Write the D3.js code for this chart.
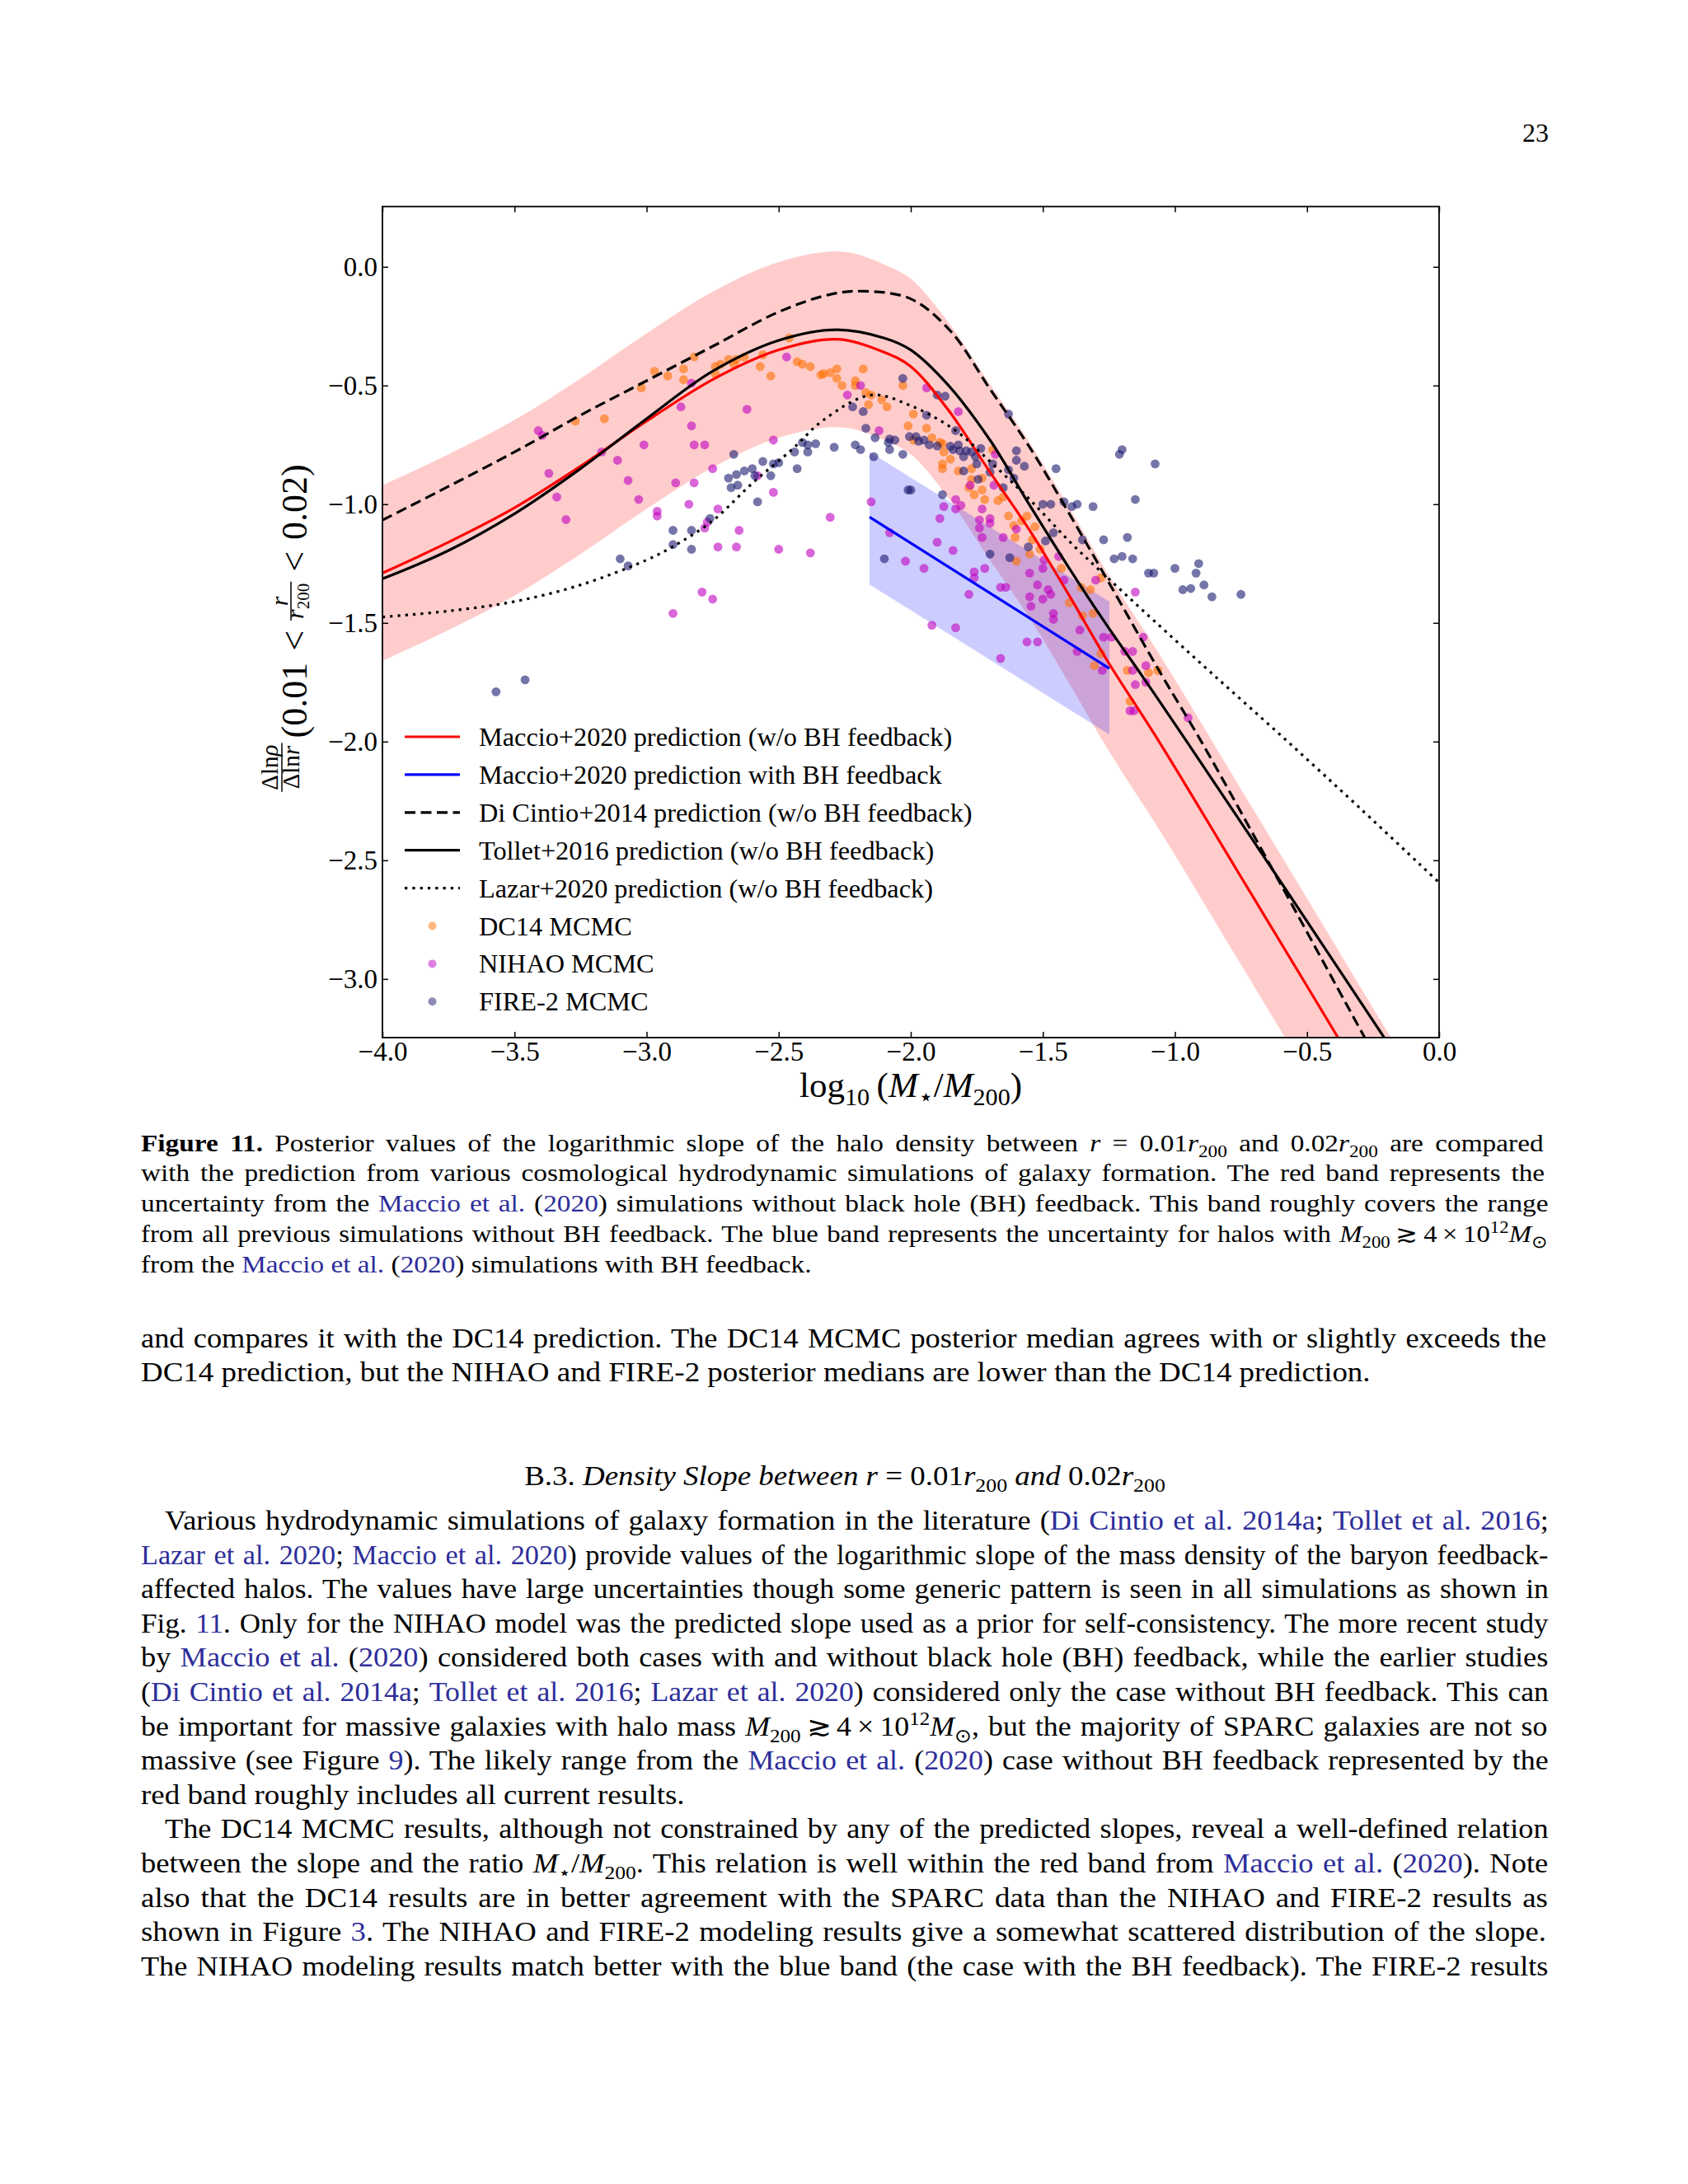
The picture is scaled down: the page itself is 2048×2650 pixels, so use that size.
<!DOCTYPE html>
<html><head><meta charset="utf-8">
<script src="https://cdn.jsdelivr.net/npm/d3@7"></script>
<style>body{margin:0;background:#fff}svg{display:block}</style>
</head><body>
<svg id="page" width="2048" height="2650"></svg>
<script>
// ---------------- DATA ----------------
const xTicks = [-4.0, -3.5, -3.0, -2.5, -2.0, -1.5, -1.0, -0.5, 0.0];
const yTicks = [0.0, -0.5, -1.0, -1.5, -2.0, -2.5, -3.0];

// Maccio+2020 (w/o BH) median and band
const maccioX = [-4.0,-3.75,-3.5,-3.25,-3.0,-2.75,-2.5,-2.28,-2.1,-2.0,-1.86,-1.7,-1.55,-1.4,-1.25,-1.06,-0.75,-0.5,-0.3,-0.1];
const maccioY = [-1.29,-1.16,-1.015,-0.84,-0.65,-0.475,-0.35,-0.305,-0.36,-0.42,-0.60,-0.865,-1.11,-1.385,-1.67,-2.0,-2.57,-3.03,-3.40,-3.77];
const bandUpper = [-0.92,-0.79,-0.645,-0.47,-0.28,-0.105,0.02,0.065,0.01,-0.05,-0.23,-0.495,-0.74,-1.015,-1.30,-1.63,-2.20,-2.66,-3.03,-3.40];
const bandLower = [-1.66,-1.53,-1.385,-1.21,-1.02,-0.845,-0.72,-0.675,-0.73,-0.79,-0.97,-1.235,-1.48,-1.755,-2.04,-2.37,-2.94,-3.40,-3.77,-4.14];

// Maccio+2020 with BH feedback
const bhX = [-2.156, -1.248];
const bhY = [-1.054, -1.692];
const bhUpper = [-0.779, -1.41];
const bhLower = [-1.338, -1.97];

// Di Cintio+2014
const dcX = [-4.0,-3.75,-3.5,-3.25,-3.0,-2.75,-2.5,-2.3,-2.17,-2.0,-1.85,-1.7,-1.55,-1.4,-1.25,-1.05,-0.9,-0.6,-0.28,-0.2];
const dcY = [-1.067,-0.925,-0.78,-0.625,-0.48,-0.335,-0.19,-0.115,-0.103,-0.135,-0.27,-0.515,-0.76,-1.04,-1.33,-1.72,-2.0,-2.6,-3.25,-3.41];

// Tollet+2016
const tolX = [-4.0,-3.75,-3.5,-3.25,-3.0,-2.75,-2.5,-2.28,-2.1,-2.0,-1.86,-1.7,-1.55,-1.4,-1.27,-1.12,-0.955,-0.6,-0.2,-0.1];
const tolY = [-1.314,-1.195,-1.04,-0.85,-0.64,-0.44,-0.31,-0.265,-0.30,-0.35,-0.496,-0.73,-1.004,-1.27,-1.49,-1.73,-2.0,-2.59,-3.26,-3.43];

// Lazar+2020
const lzX = [-4.0,-3.75,-3.5,-3.25,-3.0,-2.9,-2.75,-2.6,-2.45,-2.33,-2.15,-2.0,-1.83,-1.7,-1.55,-1.39,-1.24,-1.08,-0.85,-0.58,-0.3,0.0];
const lzY = [-1.475,-1.45,-1.41,-1.34,-1.235,-1.178,-1.07,-0.912,-0.77,-0.645,-0.54,-0.585,-0.69,-0.82,-0.98,-1.167,-1.325,-1.49,-1.723,-1.993,-2.28,-2.594];

// MCMC posteriors [log10(M*/M200), slope]
const dc14 = [[-3.27,-0.65],[-3.16,-0.64],[-3.02,-0.51],[-2.97,-0.44],[-2.92,-0.46],[-2.86,-0.43],[-2.86,-0.475],[-2.82,-0.38],[-2.74,-0.42],[-2.74,-0.45],[-2.72,-0.41],[-2.69,-0.39],[-2.67,-0.41],[-2.66,-0.39],[-2.63,-0.38],[-2.57,-0.42],[-2.56,-0.37],[-2.53,-0.46],[-2.46,-0.30],[-2.43,-0.40],[-2.41,-0.41],[-2.38,-0.42],[-2.34,-0.455],
[-2.33,-0.45],[-2.305,-0.446],[-2.28,-0.43],[-2.28,-0.47],[-2.26,-0.50],[-2.21,-0.48],[-2.21,-0.50],[-2.18,-0.43],[-2.17,-0.53],[-2.16,-0.58],[-2.15,-0.54],[-2.11,-0.56],[-2.09,-0.59],[-2.03,-0.50],[-2.01,-0.67],[-1.99,-0.62],[-1.94,-0.68],[-1.99,-0.73],[-1.92,-0.72],[-1.89,-0.74],[-1.88,-0.745],[-1.875,-0.78],[-1.85,-0.81],[-1.88,-0.83],[-1.88,-0.85],[-1.82,-0.86],[-1.77,-0.85],[-1.77,-0.895],[-1.78,-0.93],[-1.76,-0.96],[-1.73,-0.94],[-1.73,-0.89],[-1.69,-0.77],[-1.67,-0.985],[-1.65,-0.97],[-1.72,-0.98],[-1.63,-1.05],[-1.61,-1.09],[-1.605,-1.14],[-1.58,-1.07],[-1.56,-1.05],[-1.53,-1.095],[-1.54,-1.15],[-1.51,-1.19],[-1.55,-1.21],[-1.60,-1.24],[-1.43,-1.27],[-1.28,-1.31],[-1.355,-1.35],[-1.32,-1.36],[-1.40,-1.415],[-1.31,-1.46],[-1.35,-1.47],
[-1.305,-1.68],[-1.28,-1.63],[-1.18,-1.70],[-1.17,-1.83],[-1.10,-1.71],[-1.065,-1.70]];

const nihao = [[-3.41,-0.69],[-3.395,-0.71],[-3.37,-0.87],[-3.34,-0.97],[-3.305,-1.065],[-3.17,-0.78],[-3.11,-0.815],[-3.07,-0.90],[-3.03,-0.98],[-3.01,-0.75],[-2.96,-1.03],[-2.96,-1.05],[-2.89,-0.91],[-2.87,-0.59],[-2.84,-1.00],[-2.83,-0.49],[-2.83,-0.67],[-2.82,-0.75],[-2.78,-0.75],[-2.82,-0.91],[-2.79,-1.37],[-2.75,-1.40],[-2.90,-1.46],[-2.78,-1.10],[-2.77,-1.075],[-2.73,-1.02],[-2.73,-1.18],[-2.75,-0.85],[-2.66,-1.18],[-2.65,-1.11],[-2.62,-0.60],[-2.58,-0.88],[-2.52,-0.95],[-2.52,-0.73],[-2.50,-1.19],[-2.47,-0.38],[-2.38,-1.205],
[-2.19,-0.50],[-2.24,-0.54],[-2.12,-0.69],[-1.94,-0.51],[-1.82,-0.61],[-2.15,-0.99],[-2.305,-1.055],[-2.08,-1.12],[-1.875,-1.01],[-1.83,-0.98],[-1.83,-1.02],[-1.81,-1.005],[-1.89,-1.06],[-1.90,-1.16],[-1.84,-1.195],[-2.02,-1.24],[-1.95,-1.27],[-1.76,-1.285],[-1.76,-1.31],[-1.72,-1.27],[-1.78,-1.38],[-1.73,-1.02],[-1.74,-1.066],[-1.74,-1.10],[-1.70,-1.06],[-1.70,-1.08],[-1.73,-1.14],[-1.685,-0.92],[-1.68,-0.79],[-1.775,-0.92],[-1.65,-1.14],[-1.60,-1.105],[-1.66,-1.35],[-1.64,-1.35],[-1.55,-1.29],[-1.52,-1.34],[-1.50,-1.27],[-1.495,-1.235],[-1.48,-1.36],[-1.47,-1.38],[-1.55,-1.39],[-1.50,-1.40],[-1.545,-1.43],[-1.46,-1.46],[-1.42,-1.32],[-1.44,-1.22],[-1.30,-1.32],[-1.15,-1.37],
[-1.92,-1.51],[-1.83,-1.52],[-1.66,-1.65],[-1.56,-1.58],[-1.52,-1.58],[-1.37,-1.62],[-1.275,-1.70],[-1.19,-1.62],[-1.16,-1.62],[-1.16,-1.70],[-1.11,-1.68],[-1.11,-1.75],[-1.15,-1.76],[-1.17,-1.87],[-1.155,-1.87],[-0.95,-1.90],[-1.12,-1.56],[-1.24,-1.56],[-1.27,-1.56],[-1.36,-1.53],[-1.46,-1.485]];

const fire2 = [[-3.57,-1.79],[-3.46,-1.74],[-3.10,-1.23],[-3.07,-1.26],[-2.90,-1.11],[-2.90,-1.17],[-2.83,-1.11],[-2.83,-1.19],[-2.76,-1.06],[-2.69,-0.89],[-2.68,-0.93],[-2.66,-0.875],[-2.655,-0.92],[-2.67,-0.79],[-2.63,-0.86],[-2.60,-0.85],[-2.59,-0.88],[-2.58,-0.99],[-2.56,-0.82],[-2.53,-0.88],[-2.52,-0.83],[-2.50,-0.825],[-2.44,-0.78],[-2.43,-0.85],[-2.41,-0.74],[-2.39,-0.75],[-2.39,-0.78],[-2.36,-0.745],
[-2.29,-0.76],[-2.21,-0.75],[-2.19,-0.77],[-2.14,-0.80],[-2.135,-0.72],[-2.08,-0.77],[-2.03,-0.79],[-2.085,-0.74],[-2.08,-0.725],[-2.06,-0.73],[-2.17,-0.68],[-2.18,-0.61],[-2.22,-0.59],[-2.03,-0.47],[-2.005,-0.715],[-1.98,-0.715],[-1.97,-0.735],[-1.94,-0.625],[-1.95,-0.73],[-1.93,-0.75],[-1.90,-0.755],[-1.90,-0.54],[-1.87,-0.545],[-1.85,-0.756],[-1.84,-0.77],[-1.82,-0.75],[-1.815,-0.775],[-1.80,-0.80],[-1.79,-0.775],[-1.77,-0.78],[-1.755,-0.80],[-1.735,-0.765],[-1.75,-0.83],[-1.80,-0.86],[-1.745,-0.895],[-1.70,-0.865],[-1.69,-0.83],[-1.83,-0.69],[-1.63,-0.62],[-1.65,-0.93],[-1.63,-0.855],[-1.61,-0.89],[-1.60,-0.775],[-1.60,-0.815],[-1.57,-0.84],[-2.01,-0.94],[-2.00,-0.94],[-1.88,-0.96],[-2.10,-1.23],[-1.70,-1.21],[-1.625,-1.225],[-1.555,-1.18],[-1.46,-1.12],[-1.49,-1.155],[-1.50,-1.00],[-1.47,-1.00],[-1.42,-0.99],[-1.39,-1.01],[-1.37,-1.00],[-1.31,-1.01],[-1.35,-1.15],[-1.45,-0.85],[-1.21,-0.79],[-1.20,-0.77],[-1.075,-0.83],[-1.15,-0.98],[-1.27,-1.15],[-1.18,-1.14],[-1.23,-1.23],[-1.20,-1.22],[-1.16,-1.23],[-1.10,-1.29],[-1.08,-1.29],[-1.00,-1.27],[-0.97,-1.36],[-0.94,-1.355],
[-0.91,-1.25],[-0.92,-1.29],[-0.89,-1.34],[-0.86,-1.39],[-0.75,-1.38]];

const legendLabels = [
  "Maccio+2020 prediction (w/o BH feedback)",
  "Maccio+2020 prediction with BH feedback",
  "Di Cintio+2014 prediction (w/o BH feedback)",
  "Tollet+2016 prediction (w/o BH feedback)",
  "Lazar+2020 prediction (w/o BH feedback)",
  "DC14 MCMC",
  "NIHAO MCMC",
  "FIRE-2 MCMC"
];

const captionLines = [
  "{b:Figure 11.}  Posterior values of the logarithmic slope of the halo density between {i:r} = 0.01{i:r}{sub:200} and 0.02{i:r}{sub:200} are compared",
  "with the prediction from various cosmological hydrodynamic simulations of galaxy formation.  The red band represents the",
  "uncertainty from the {a:Maccio et al.} ({a:2020}) simulations without black hole (BH) feedback. This band roughly covers the range",
  "from all previous simulations without BH feedback. The blue band represents the uncertainty for halos with {i:M}{sub:200}\u2009\u2273\u20094\u2009\u00d7\u200910{sup:12}{i:M}{sub:\u2299}",
  "from the {a:Maccio et al.} ({a:2020}) simulations with BH feedback."
];
const bodyLines = [
  "and compares it with the DC14 prediction.  The DC14 MCMC posterior median agrees with or slightly exceeds the",
  "DC14 prediction, but the NIHAO and FIRE-2 posterior medians are lower than the DC14 prediction."
];
const headingLine = "B.3.  {i:Density Slope between r} = 0.01{i:r}{sub:200} {i:and} 0.02{i:r}{sub:200}";
const paraLines = [
  "Various hydrodynamic simulations of galaxy formation in the literature ({a:Di Cintio et al. 2014a}; {a:Tollet et al. 2016};",
  "{a:Lazar et al. 2020}; {a:Maccio et al. 2020}) provide values of the logarithmic slope of the mass density of the baryon feedback-",
  "affected halos. The values have large uncertainties though some generic pattern is seen in all simulations as shown in",
  "Fig. {a:11}. Only for the NIHAO model was the predicted slope used as a prior for self-consistency. The more recent study",
  "by {a:Maccio et al.} ({a:2020}) considered both cases with and without black hole (BH) feedback, while the earlier studies",
  "({a:Di Cintio et al. 2014a}; {a:Tollet et al. 2016}; {a:Lazar et al. 2020}) considered only the case without BH feedback. This can",
  "be important for massive galaxies with halo mass {i:M}{sub:200}\u2009\u2273\u20094\u2009\u00d7\u200910{sup:12}{i:M}{sub:\u2299}, but the majority of SPARC galaxies are not so",
  "massive (see Figure {a:9}). The likely range from the {a:Maccio et al.} ({a:2020}) case without BH feedback represented by the",
  "red band roughly includes all current results.",
  "The DC14 MCMC results, although not constrained by any of the predicted slopes, reveal a well-defined relation",
  "between the slope and the ratio {i:M}{sub:\u22c6}/{i:M}{sub:200}. This relation is well within the red band from {a:Maccio et al.} ({a:2020}). Note",
  "also that the DC14 results are in better agreement with the SPARC data than the NIHAO and FIRE-2 results as",
  "shown in Figure {a:3}.  The NIHAO and FIRE-2 modeling results give a somewhat scattered distribution of the slope.",
  "The NIHAO modeling results match better with the blue band (the case with the BH feedback). The FIRE-2 results"
];

// ---------------- DRAWING ----------------
const svg = d3.select('#page');
svg.append('rect').attr('width', 2048).attr('height', 2650).attr('fill', '#fff');
const SERIF = 'Liberation Serif, Times New Roman, serif';
const LINK = '#2e2e9a';

// rich text: {i:..} italic, {b:..} bold, {a:..} link colour, {sub:..}, {sup:..}
function rich(parent, src, o) {
  const size = o.size;
  let sx = o.sx || 1;
  const host = parent.append('g');
  const t = host.append('text').attr('x', 0).attr('y', 0)
    .attr('font-family', SERIF).attr('font-size', size)
    .attr('fill', '#000').attr('text-anchor', o.anchor || 'start');
  let off = 0;
  const re = /\{(\w+):([^}]*)\}/g;
  let last = 0, m;
  const put = (s, k) => {
    const sp = t.append('tspan').text(s);
    let target = 0;
    if (k === 'sub') target = size * 0.24;
    else if (k === 'sup') target = -size * 0.38;
    if (target !== off) { sp.attr('dy', (target - off).toFixed(2)); off = target; }
    if (k === 'sub' || k === 'sup') sp.attr('font-size', (size * 0.7).toFixed(1));
    if (k === 'i') sp.attr('font-style', 'italic');
    if (k === 'b') sp.attr('font-weight', 'bold');
    if (k === 'a') sp.attr('fill', LINK);
  };
  while ((m = re.exec(src))) {
    if (m.index > last) put(src.slice(last, m.index), '');
    put(m[2], m[1]);
    last = re.lastIndex;
  }
  if (last < src.length) put(src.slice(last), '');
  if (o.width) {
    const w = t.node().getComputedTextLength();
    const n = (src.replace(/\{(\w+):([^}]*)\}/g, '$2').match(/ /g) || []).length;
    if (n) {
      const minExtra = 2.0;
      sx = Math.min(sx, o.width / (w + n * minExtra));
      t.attr('word-spacing', ((o.width / sx - w) / n).toFixed(2));
    }
  }
  host.attr('transform', `translate(${o.x},${o.y})` + (sx !== 1 ? ` scale(${sx.toFixed(4)},1)` : ''));
  return t;
}

// page number
svg.append('text').attr('x', 1879).attr('y', 172).attr('text-anchor', 'end')
  .attr('font-family', SERIF).attr('font-size', 32).text('23');

// ---- chart ----
const L = 464, R = 1746, T = 250.6, B = 1259;
const x = d3.scaleLinear().domain([-4, 0]).range([L, R]);
const y = d3.scaleLinear().domain([-3.247, 0.254]).range([B, T]);

const defs = svg.append('defs');
defs.append('clipPath').attr('id', 'clip').append('rect')
  .attr('x', L).attr('y', T).attr('width', R - L).attr('height', B - T);
const plot = svg.append('g').attr('clip-path', 'url(#clip)');

const zip = (xs, ys) => xs.map((v, i) => [v, ys[i]]);
const CURVE = d3.curveCatmullRom.alpha(0.5);

// red band
const bandData = maccioX.map((v, i) => ({x: v, lo: bandLower[i], hi: bandUpper[i]}));
plot.append('path').datum(bandData)
  .attr('d', d3.area().x(d => x(d.x)).y0(d => y(d.lo)).y1(d => y(d.hi)).curve(d3.curveMonotoneX))
  .attr('fill', 'rgba(255,0,0,0.2)');
// blue band
const bhBand = bhX.map((v, i) => ({x: v, lo: bhLower[i], hi: bhUpper[i]}));
plot.append('path').datum(bhBand)
  .attr('d', d3.area().x(d => x(d.x)).y0(d => y(d.lo)).y1(d => y(d.hi)))
  .attr('fill', 'rgba(0,0,255,0.2)');

// scatter
const scat = [
  {data: dc14, color: '#ff7000'},
  {data: nihao, color: '#bf00bf'},
  {data: fire2, color: '#191970'}
];
scat.forEach(s => {
  plot.append('g').selectAll('circle').data(s.data).join('circle')
    .attr('cx', d => x(d[0])).attr('cy', d => y(d[1])).attr('r', 5.4)
    .attr('fill', s.color).attr('fill-opacity', 0.6);
});

// lines
const line = d3.line().x(d => x(d[0])).y(d => y(d[1])).curve(CURVE);
const LW = 3.2;
plot.append('path').datum(zip(bhX, bhY)).attr('d', d3.line().x(d => x(d[0])).y(d => y(d[1])))
  .attr('fill', 'none').attr('stroke', '#0000ff').attr('stroke-width', LW);
plot.append('path').datum(zip(maccioX, maccioY)).attr('d', line).attr('fill', 'none').attr('stroke', '#ff0000').attr('stroke-width', LW);
plot.append('path').datum(zip(dcX, dcY)).attr('d', line).attr('fill', 'none').attr('stroke', '#000').attr('stroke-width', LW).attr('stroke-dasharray', '13,6.5');
plot.append('path').datum(zip(tolX, tolY)).attr('d', line).attr('fill', 'none').attr('stroke', '#000').attr('stroke-width', LW);
plot.append('path').datum(zip(lzX, lzY)).attr('d', line).attr('fill', 'none').attr('stroke', '#000').attr('stroke-width', LW).attr('stroke-dasharray', '3.3,6');

// axes
const fmt = d3.format('.1f');
function styleAxis(g) {
  g.select('.domain').remove();
  g.selectAll('.tick line').attr('stroke', '#000').attr('stroke-width', 1.5);
  g.selectAll('.tick text').attr('font-family', SERIF).attr('font-size', 33).attr('fill', '#000');
}
svg.append('g').attr('transform', `translate(0,${B})`)
  .call(d3.axisBottom(x).tickValues(xTicks).tickFormat(fmt).tickSizeInner(-7).tickSizeOuter(0).tickPadding(5))
  .call(styleAxis);
svg.append('g').attr('transform', `translate(0,${T})`)
  .call(d3.axisTop(x).tickValues(xTicks).tickFormat('').tickSizeInner(-7).tickSizeOuter(0))
  .call(styleAxis);
svg.append('g').attr('transform', `translate(${L},0)`)
  .call(d3.axisLeft(y).tickValues(yTicks).tickFormat(fmt).tickSizeInner(-7).tickSizeOuter(0).tickPadding(6))
  .call(styleAxis);
svg.append('g').attr('transform', `translate(${R},0)`)
  .call(d3.axisRight(y).tickValues(yTicks).tickFormat('').tickSizeInner(-7).tickSizeOuter(0))
  .call(styleAxis);
svg.append('rect').attr('x', L).attr('y', T).attr('width', R - L).attr('height', B - T)
  .attr('fill', 'none').attr('stroke', '#000').attr('stroke-width', 1.8);

// x label
rich(svg, 'log{sub:10}\u2009({i:M}{sub:\u22c6}/{i:M}{sub:200})', {x: 1105, y: 1331, size: 43, anchor: 'middle'});

// y label (rotated)
(function () {
  const outer = svg.append('g').attr('transform', 'translate(372,0) rotate(-90)');
  const g = outer.append('g');
  const pieces = [
    {frac: true, num: '\u0394ln{i:\u03c1}', den: '\u0394ln{i:r}', size: 29, numY: -35, barY: -30, denY: -9},
    {gap: 6},
    {src: '(0.01', size: 44},
    {gap: 14},
    {src: '<', size: 44},
    {gap: 12},
    {frac: true, num: '{i:r}', den: '{i:r}{sub:200}', size: 30, numY: -23, barY: -19, denY: -4},
    {gap: 12},
    {src: '<', size: 44},
    {gap: 14},
    {src: '0.02)', size: 44}
  ];
  let cur = 0;
  pieces.forEach(p => {
    if (p.gap) { cur += p.gap; return; }
    if (p.frac) {
      const pg = g.append('g');
      const n = rich(pg, p.num, {x: 0, y: p.numY, size: p.size, anchor: 'middle'});
      const d = rich(pg, p.den, {x: 0, y: p.denY, size: p.size, anchor: 'middle'});
      const w = Math.max(n.node().getComputedTextLength(), d.node().getComputedTextLength()) + 4;
      n.attr('x', w / 2); d.attr('x', w / 2);
      pg.append('line').attr('x1', 0).attr('x2', w).attr('y1', p.barY).attr('y2', p.barY)
        .attr('stroke', '#000').attr('stroke-width', 1.5);
      pg.attr('transform', `translate(${cur},0)`);
      cur += w;
    } else {
      const t = rich(g, p.src, {x: cur, y: 0, size: p.size});
      cur += t.node().getComputedTextLength();
    }
  });
  const center = 762;
  g.attr('transform', `translate(${-(center + cur / 2)},0)`);
})();

// legend
const LX0 = 491, LX1 = 558, TX = 581;
const rowY = i => 894 + i * 45.9;
const leg = svg.append('g');
const legStyles = [
  {stroke: '#ff0000'}, {stroke: '#0000ff'}, {stroke: '#000', dash: '13,6.5'}, {stroke: '#000'}, {stroke: '#000', dash: '3.3,6'},
  {dot: '#ff7000'}, {dot: '#bf00bf'}, {dot: '#191970'}
];
legendLabels.forEach((lab, i) => {
  const st = legStyles[i];
  const cy = rowY(i);
  if (st.stroke) {
    const ln = leg.append('line').attr('x1', LX0).attr('x2', LX1).attr('y1', cy).attr('y2', cy)
      .attr('stroke', st.stroke).attr('stroke-width', LW);
    if (st.dash) ln.attr('stroke-dasharray', st.dash);
  } else {
    leg.append('circle').attr('cx', (LX0 + LX1) / 2).attr('cy', cy).attr('r', 5)
      .attr('fill', st.dot).attr('fill-opacity', 0.5);
  }
  leg.append('text').attr('x', TX).attr('y', cy + 11).attr('font-family', SERIF).attr('font-size', 32.3)
    .attr('fill', '#000').text(lab);
});

// ---- caption ----
const TL = 171, TR = 1879;
captionLines.forEach((s, i) => {
  const last = i === captionLines.length - 1;
  rich(svg, s, {x: TL, y: 1396.7 + i * 36.7, size: 29.5, sx: 1.13, width: last ? null : TR - TL});
});

// ---- body text ----
bodyLines.forEach((s, i) => {
  rich(svg, s, {x: TL, y: 1635 + i * 41, size: 33, sx: 1.12, width: i === 0 ? TR - TL : null});
});
rich(svg, headingLine, {x: (TL + TR) / 2, y: 1802, size: 33, sx: 1.12, anchor: 'middle'});
paraLines.forEach((s, i) => {
  const indent = (i === 0 || i === 9) ? 29 : 0;
  const noJust = (i === 8);
  rich(svg, s, {x: TL + indent, y: 1856 + i * 41.6, size: 33, sx: 1.12, width: noJust ? null : TR - TL - indent});
});
</script>
</body></html>
